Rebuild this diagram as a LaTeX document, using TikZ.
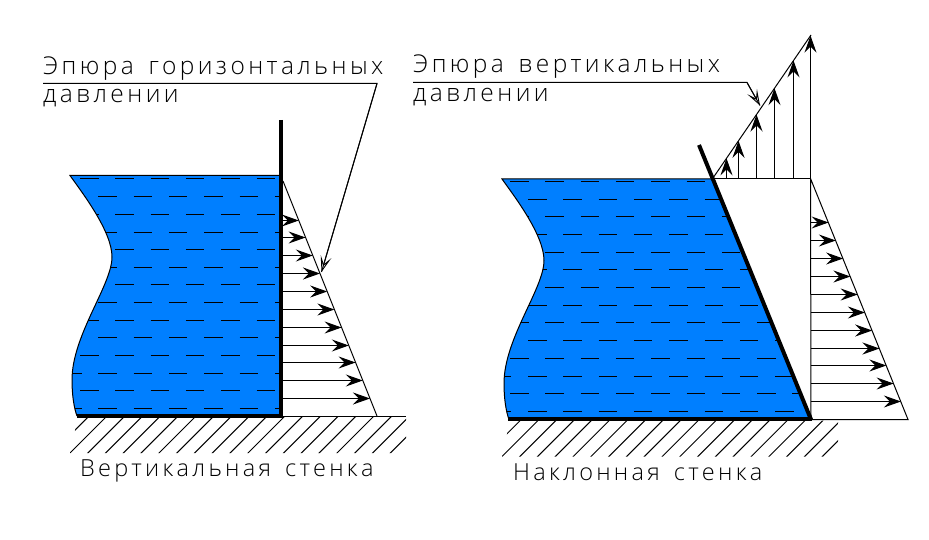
\documentclass[tikz,border=0pt]{standalone}
\usepackage{fontspec}
\setmainfont{Open Sans Light}[LetterSpace=14,WordSpace=1.5]
\usepackage{xcolor}
\usetikzlibrary{arrows.meta}
\definecolor{waterblue}{RGB}{0,127,255}
% water outline, same for both walls
\newcommand{\watercurve}{(70,175.5) .. controls (84,195) and (112,232) .. (112,257) .. controls (112,285) and (72,335) .. (72,380) .. controls (72,395) and (74,408) .. (77,416)}
\tikzset{
  wallline/.style={line width=4pt},
  hairline/.style={line width=1pt},
  waterdash/.style={line width=1pt, dash pattern=on 18.5pt off 16.8pt},
  pressure/.style={line width=1pt, -{Stealth[length=17pt,width=12pt,inset=6pt]}},
  leader/.style={line width=0.9pt, -{Stealth[open,length=16pt,width=11pt,inset=8pt]}},
  cadlabel/.style={anchor=base west, inner sep=0pt, font=\fontsize{24.5pt}{24.5pt}\selectfont},
  wallname/.style={cadlabel, font=\fontsize{23.5pt}{23.5pt}\selectfont}
}
\begin{document}
\begin{tikzpicture}[x=1pt, y=-1pt]
        \useasboundingbox (0,0) rectangle (929,540);
        % Vertical wall
        \fill[waterblue] \watercurve -- (281,416) -- (281,175.5) -- cycle;
        \begin{scope}
            \clip \watercurve -- (281,416) -- (281,175.5) -- cycle;
            \foreach \yy in {178.5,214.5,249.5,284.5,320.5,355.5,390.5}
                \draw[waterdash] (80,\yy) -- (281,\yy);
            \foreach \yy in {196.5,232.5,267.5,302.5,337.5,373.5,408.5}
                \draw[waterdash] (63,\yy) -- (281,\yy);
        \end{scope}
        \draw[hairline] (281,175.5) -- \watercurve;
        \draw[wallline] (77,416) -- (281,416);
        \draw[wallline] (281,120) -- (281,418);
        \draw[hairline] (281,416.5) -- (406,416.5);
        \draw[hairline] (283,181) -- (377,416);
        \foreach \yy in {220.5,237.5,255.5,273.5,291.5,309.5,327.5,345.5,362.5,380.5,398.5} {
            \pgfmathsetmacro\xx{283+0.4*(\yy-181)}
            \draw[pressure] (282,\yy) -- (\xx,\yy);
        }
        % hatching
        \begin{scope}
            \clip (78,417) -- (406,417) -- (406,453) -- (70,453) -- cycle;
            \foreach \k in {0,...,19}
                \draw[hairline] (505.2+17.8*\k-460,460) -- (505.2+17.8*\k-410,410);
        \end{scope}
        \node[cadlabel] (hortitle) at (43,75) {Эпюра горизонтальных};
        \node[cadlabel] (horsub) at (43,103) {давлении};
        \node[wallname] (vertwall) at (80,476.5) {Вертикальная стенка};
        \coordinate (horstart) at (43,83.5);
        \coordinate (horbend) at (377,83.5);
        \coordinate (hortip) at (321.5,272);
        \draw[hairline] (horstart) -- (horbend) -- (hortip);
        \draw[leader] (horbend) -- (hortip);

        % Inclined wall
        \begin{scope}[shift={(432,3.5)}]
            \fill[waterblue] \watercurve -- (379,416) -- (281,175.5) -- cycle;
            \draw[hairline] (281,175.5) -- \watercurve;
            \begin{scope}
                \clip \watercurve -- (379,416) -- (281,175.5) -- cycle;
                \foreach \yy in {178,213,249,284,319,355,390}
                    \draw[waterdash] (78,\yy) -- (379,\yy);
                \foreach \yy in {196,231,266,302,337,373,408}
                    \draw[waterdash] (60.7,\yy) -- (379,\yy);
            \end{scope}
            \begin{scope}
                \clip (78,417) -- (406,417) -- (406,453) -- (70,453) -- cycle;
                \foreach \k in {0,...,19}
                    \draw[hairline] (505.2+17.8*\k-460,460) -- (505.2+17.8*\k-410,410);
            \end{scope}
        \end{scope}
        \draw[wallline] (508,419) -- (812,419);
        \draw[wallline] (699,145) -- (811,419.5);
        \draw[hairline] (811,419.5) -- (908,419.5) -- (810.5,178.5) -- cycle;
        \foreach \yy in {222.5,240.5,258.5,276.5,294.5,312.5,330.5,348.5,365.5,383.5,401.5} {
            \pgfmathsetmacro\xx{811+0.404*(\yy-179)}
            \draw[pressure] (810.5,\yy) -- (\xx,\yy);
        }
        % vertical pressure diagram
        \draw[hairline] (713,178.5) -- (810.5,178.5);
        \draw[hairline] (713,178) -- (811,35);
        \foreach \xx in {726.5,738.5,756.5,774.5,793.5,810.5} {
            \pgfmathsetmacro\yy{178-1.46*(\xx-713)}
            \draw[pressure] (\xx,178.5) -- (\xx,\yy);
        }
        \node[cadlabel] (verttitle) at (413,72.5) {Эпюра вертикальных};
        \node[cadlabel] (vertsub) at (413,101.5) {давлении};
        \node[wallname] (inclwall) at (513,480) {Наклонная стенка};
        \coordinate (vertstart) at (413,82.5);
        \coordinate (vertbend) at (747,82.5);
        \coordinate (verttip) at (760,105.5);
        \draw[hairline] (vertstart) -- (vertbend) -- (verttip);
        \draw[leader] (vertbend) -- (verttip);
    \end{tikzpicture}
\end{document}
